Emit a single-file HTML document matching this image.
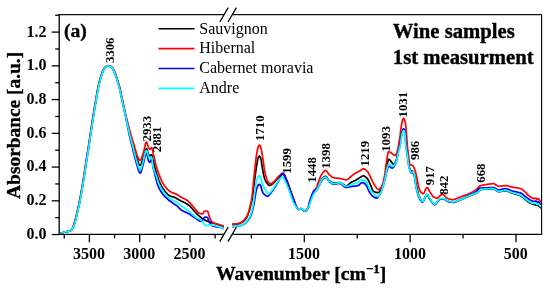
<!DOCTYPE html>
<html><head><meta charset="utf-8"><title>Wine samples FTIR</title>
<style>
html,body{margin:0;padding:0;background:#fff;}
body{width:550px;height:291px;overflow:hidden;}
svg{display:block;font-family:"Liberation Serif","Times New Roman",serif;}
</style></head><body>
<svg width="550" height="291" viewBox="0 0 550 291">
<rect width="550" height="291" fill="#fff"/>
<g fill="none" stroke-width="1.7" stroke-linejoin="round" stroke-linecap="butt">
<path d="M60.1,233.8L60.5,233.6L60.9,233.4L61.3,233.2L61.7,233.1L62.1,232.9L62.5,232.7L62.9,232.6L63.3,232.5L63.7,232.3L64.1,232.2L64.5,232.1L64.9,232.0L65.3,231.9L65.7,231.8L66.1,231.8L66.5,231.7L66.9,231.7L67.3,231.6L67.7,231.5L68.1,231.4L68.5,231.3L68.9,231.2L69.3,231.1L69.7,231.0L70.1,230.8L70.5,230.5L70.9,230.2L71.3,229.8L71.7,229.4L72.1,229.0L72.5,228.4L72.9,227.6L73.3,226.6L73.7,225.5L74.1,224.4L74.5,223.1L74.9,221.7L75.3,220.3L75.7,218.8L76.1,217.2L76.5,215.5L76.9,213.8L77.3,212.0L77.7,210.2L78.1,208.5L78.5,206.7L78.9,204.9L79.3,203.0L79.7,201.0L80.1,199.0L80.5,196.8L80.9,194.5L81.3,192.3L81.7,190.0L82.1,187.8L82.5,185.5L82.9,183.1L83.3,180.7L83.7,178.1L84.1,175.5L84.5,172.8L84.9,170.2L85.3,167.5L85.7,164.9L86.1,162.3L86.5,159.7L86.9,157.2L87.3,154.7L87.7,152.3L88.1,149.8L88.5,147.3L88.9,144.7L89.3,142.1L89.7,139.4L90.1,136.7L90.5,134.0L90.9,131.3L91.3,128.7L91.7,126.0L92.1,123.4L92.5,120.8L92.9,118.2L93.3,115.7L93.7,113.2L94.1,110.8L94.5,108.4L94.9,106.0L95.3,103.6L95.7,101.3L96.1,98.9L96.5,96.6L96.9,94.2L97.3,91.9L97.7,89.7L98.1,87.7L98.5,85.9L98.9,84.1L99.3,82.5L99.7,81.0L100.1,79.5L100.5,78.1L100.9,76.8L101.3,75.5L101.7,74.3L102.1,73.2L102.5,72.1L102.9,71.1L103.3,70.2L103.7,69.4L104.1,68.7L104.5,68.1L104.9,67.6L105.3,67.1L105.7,66.8L106.1,66.6L106.5,66.5L106.9,66.3L107.3,66.2L107.7,66.1L108.1,66.0L108.5,66.0L108.9,66.0L109.3,66.0L109.7,66.1L110.1,66.3L110.5,66.4L110.9,66.6L111.3,66.8L111.7,67.1L112.1,67.6L112.5,68.1L112.9,68.7L113.3,69.4L113.7,70.1L114.1,71.0L114.5,71.9L114.9,72.9L115.3,73.9L115.7,75.0L116.1,76.1L116.5,77.3L116.9,78.5L117.3,79.8L117.7,81.1L118.1,82.4L118.5,83.7L118.9,85.2L119.3,86.7L119.7,88.3L120.1,90.0L120.5,91.8L120.9,93.7L121.3,95.6L121.7,97.5L122.1,99.3L122.5,101.1L122.9,103.0L123.3,104.8L123.7,106.7L124.1,108.5L124.5,110.4L124.9,112.2L125.3,114.0L125.7,115.8L126.1,117.5L126.5,119.3L126.9,121.0L127.3,122.7L127.7,124.4L128.1,126.1L128.5,127.8L128.9,129.4L129.3,131.1L129.7,132.7L130.1,134.2L130.5,135.8L130.9,137.3L131.3,138.7L131.7,140.2L132.1,141.6L132.5,143.0L132.9,144.4L133.3,145.8L133.7,147.2L134.1,148.7L134.5,150.2L134.9,151.6L135.3,153.1L135.7,154.5L136.1,155.9L136.5,157.1L136.9,158.3L137.3,159.5L137.7,160.7L138.1,161.9L138.5,163.1L138.9,164.1L139.3,164.8L139.7,165.3L140.1,165.4L140.5,165.1L140.9,164.5L141.3,163.6L141.7,162.5L142.1,161.4L142.5,160.2L142.9,159.0L143.3,157.9L143.7,156.6L144.1,155.1L144.5,153.5L144.9,152.0L145.3,150.6L145.7,149.5L146.1,148.9L146.5,148.7L146.9,149.3L147.3,150.5L147.7,151.9L148.1,153.2L148.5,154.3L148.9,155.0L149.3,155.6L149.7,155.9L150.1,155.7L150.5,155.4L150.9,154.9L151.3,154.6L151.7,154.7L152.1,155.8L152.5,157.4L152.9,159.3L153.3,160.9L153.7,162.5L154.1,164.1L154.5,165.8L154.9,167.5L155.3,169.0L155.7,170.4L156.1,171.8L156.5,173.1L156.9,174.4L157.3,175.6L157.7,176.8L158.1,178.0L158.5,179.2L158.9,180.3L159.3,181.3L159.7,182.3L160.1,183.1L160.5,184.0L160.9,184.8L161.3,185.6L161.7,186.3L162.1,187.0L162.5,187.7L162.9,188.4L163.3,189.0L163.7,189.6L164.1,190.1L164.5,190.7L164.9,191.2L165.3,191.7L165.7,192.2L166.1,192.7L166.5,193.1L166.9,193.6L167.3,194.0L167.7,194.4L168.1,194.8L168.5,195.1L168.9,195.4L169.3,195.6L169.7,195.9L170.1,196.0L170.5,196.2L170.9,196.3L171.3,196.4L171.7,196.5L172.1,196.6L172.5,196.7L172.9,196.8L173.3,196.9L173.7,197.0L174.1,197.2L174.5,197.3L174.9,197.5L175.3,197.7L175.7,197.9L176.1,198.1L176.5,198.4L176.9,198.6L177.3,198.9L177.7,199.1L178.1,199.4L178.5,199.6L178.9,199.9L179.3,200.1L179.7,200.3L180.1,200.5L180.5,200.7L180.9,200.9L181.3,201.1L181.7,201.3L182.1,201.5L182.5,201.7L182.9,201.8L183.3,202.0L183.7,202.2L184.1,202.4L184.5,202.6L184.9,202.8L185.3,203.0L185.7,203.3L186.1,203.5L186.5,203.7L186.9,204.0L187.3,204.2L187.7,204.5L188.1,204.7L188.5,205.0L188.9,205.3L189.3,205.6L189.7,206.0L190.1,206.3L190.5,206.7L190.9,207.1L191.3,207.5L191.7,208.0L192.1,208.5L192.5,209.0L192.9,209.5L193.3,210.0L193.7,210.4L194.1,210.9L194.5,211.3L194.9,211.8L195.3,212.2L195.7,212.6L196.1,213.0L196.5,213.5L196.9,213.9L197.3,214.3L197.7,214.7L198.1,215.1L198.5,215.4L198.9,215.8L199.3,216.2L199.7,216.5L200.1,216.8L200.5,217.1L200.9,217.5L201.3,217.8L201.7,218.1L202.1,218.4L202.5,218.7L202.9,218.9L203.3,219.2L203.7,219.5L204.1,219.7L204.5,219.9L204.9,220.1L205.3,220.3L205.7,220.5L206.1,220.7L206.5,220.9L206.9,221.0L207.3,221.2L207.7,221.3L208.1,221.5L208.5,221.6L208.9,221.8L209.3,221.9L209.7,222.0L210.1,222.2L210.5,222.3L210.9,222.4L211.3,222.5L211.7,222.6L212.1,222.8L212.5,222.9L212.9,223.0L213.3,223.1L213.7,223.2L214.1,223.3L214.5,223.4L214.9,223.6L215.3,223.7L215.7,223.8L216.1,223.9L216.5,224.0L216.9,224.1L217.3,224.2L217.7,224.4L218.1,224.5L218.5,224.6L218.9,224.7L219.3,224.8L219.7,225.0L220.1,225.1L220.5,225.2L220.9,225.4L221.3,225.5L221.7,225.6L222.1,225.8L222.5,225.9L222.9,226.1L223.3,226.2L223.7,226.4L223.8,226.4" stroke="#000000"/>
<path d="M232.1,224.4L232.5,224.4L232.9,224.4L233.3,224.4L233.7,224.3L234.1,224.3L234.5,224.3L234.9,224.3L235.3,224.2L235.7,224.2L236.1,224.1L236.5,224.1L236.9,224.0L237.3,223.9L237.7,223.9L238.1,223.8L238.5,223.7L238.9,223.6L239.3,223.5L239.7,223.4L240.1,223.2L240.5,223.0L240.9,222.8L241.3,222.6L241.7,222.4L242.1,222.1L242.5,221.9L242.9,221.6L243.3,221.3L243.7,221.0L244.1,220.6L244.5,220.2L244.9,219.8L245.3,219.3L245.7,218.8L246.1,218.2L246.5,217.7L246.9,217.0L247.3,216.2L247.7,215.3L248.1,214.3L248.5,213.3L248.9,212.1L249.3,210.8L249.7,209.2L250.1,207.5L250.5,205.9L250.9,204.4L251.3,203.0L251.7,201.4L252.1,199.5L252.5,197.0L252.9,194.1L253.3,191.0L253.7,187.6L254.1,184.3L254.5,181.0L254.9,178.0L255.3,175.1L255.7,172.1L256.1,169.3L256.5,166.6L256.9,164.1L257.3,161.7L257.7,159.6L258.1,158.2L258.5,157.2L258.9,156.4L259.3,156.0L259.7,156.2L260.1,156.8L260.5,157.7L260.9,158.8L261.3,160.9L261.7,163.7L262.1,166.4L262.5,168.6L262.9,170.8L263.3,173.0L263.7,175.0L264.1,176.7L264.5,178.2L264.9,179.3L265.3,180.3L265.7,181.1L266.1,181.8L266.5,182.4L266.9,182.9L267.3,183.4L267.7,184.0L268.1,184.4L268.5,184.8L268.9,185.2L269.3,185.4L269.7,185.4L270.1,185.3L270.5,185.2L270.9,185.0L271.3,184.8L271.7,184.5L272.1,184.2L272.5,183.8L272.9,183.5L273.3,183.2L273.7,182.8L274.1,182.5L274.5,182.1L274.9,181.7L275.3,181.2L275.7,180.8L276.1,180.3L276.5,179.8L276.9,179.3L277.3,178.8L277.7,178.4L278.1,177.9L278.5,177.5L278.9,177.1L279.3,176.7L279.7,176.3L280.1,175.9L280.5,175.5L280.9,175.1L281.3,174.7L281.7,174.4L282.1,174.2L282.5,174.0L282.9,174.0L283.3,174.2L283.7,174.7L284.1,175.3L284.5,176.1L284.9,177.0L285.3,177.9L285.7,178.9L286.1,179.8L286.5,180.7L286.9,181.6L287.3,182.6L287.7,183.7L288.1,184.8L288.5,186.0L288.9,187.1L289.3,188.3L289.7,189.5L290.1,190.6L290.5,191.7L290.9,192.8L291.3,193.8L291.7,194.8L292.1,195.8L292.5,196.8L292.9,197.8L293.3,198.8L293.7,199.8L294.1,200.8L294.5,201.8L294.9,202.9L295.3,204.0L295.7,205.1L296.1,206.0L296.5,206.8L296.9,207.5L297.3,208.1L297.7,208.7L298.1,209.1L298.5,209.4L298.9,209.4L299.3,209.3L299.7,209.2L300.1,209.1L300.5,209.0L300.9,208.9L301.3,208.9L301.7,209.0L302.1,209.2L302.5,209.5L302.9,209.9L303.3,210.3L303.7,210.7L304.1,211.0L304.5,211.2L304.9,211.2L305.3,211.1L305.7,210.9L306.1,210.6L306.5,210.2L306.9,209.7L307.3,209.2L307.7,208.7L308.1,208.1L308.5,207.2L308.9,206.0L309.3,204.6L309.7,203.2L310.1,201.9L310.5,200.8L310.9,199.7L311.3,198.5L311.7,197.4L312.1,196.3L312.5,195.3L312.9,194.3L313.3,193.4L313.7,192.6L314.1,192.0L314.5,191.5L314.9,191.2L315.3,190.9L315.7,190.7L316.1,190.4L316.5,190.1L316.9,189.6L317.3,188.9L317.7,188.1L318.1,187.1L318.5,186.1L318.9,185.2L319.3,184.2L319.7,183.4L320.1,182.6L320.5,181.8L320.9,180.9L321.3,180.2L321.7,179.5L322.1,178.9L322.5,178.4L322.9,178.0L323.3,177.6L323.7,177.3L324.1,177.0L324.5,176.7L324.9,176.5L325.3,176.4L325.7,176.4L326.1,176.6L326.5,176.9L326.9,177.3L327.3,177.9L327.7,178.5L328.1,179.1L328.5,179.7L328.9,180.2L329.3,180.6L329.7,181.0L330.1,181.3L330.5,181.6L330.9,181.9L331.3,182.2L331.7,182.4L332.1,182.7L332.5,182.9L332.9,183.0L333.3,183.1L333.7,183.2L334.1,183.2L334.5,183.2L334.9,183.1L335.3,183.1L335.7,183.0L336.1,183.0L336.5,182.9L336.9,182.8L337.3,182.8L337.7,182.7L338.1,182.7L338.5,182.6L338.9,182.6L339.3,182.6L339.7,182.6L340.1,182.7L340.5,182.8L340.9,183.0L341.3,183.2L341.7,183.4L342.1,183.7L342.5,183.9L342.9,184.2L343.3,184.5L343.7,184.7L344.1,185.0L344.5,185.2L344.9,185.4L345.3,185.6L345.7,185.7L346.1,185.8L346.5,185.8L346.9,185.7L347.3,185.6L347.7,185.3L348.1,185.0L348.5,184.7L348.9,184.3L349.3,183.9L349.7,183.5L350.1,183.1L350.5,182.8L350.9,182.5L351.3,182.3L351.7,182.1L352.1,181.8L352.5,181.7L352.9,181.5L353.3,181.3L353.7,181.1L354.1,180.9L354.5,180.7L354.9,180.6L355.3,180.4L355.7,180.2L356.1,180.0L356.5,179.7L356.9,179.5L357.3,179.3L357.7,179.0L358.1,178.7L358.5,178.4L358.9,178.2L359.3,177.9L359.7,177.6L360.1,177.4L360.5,177.2L360.9,177.0L361.3,176.7L361.7,176.5L362.1,176.3L362.5,176.1L362.9,176.0L363.3,175.9L363.7,175.9L364.1,176.0L364.5,176.2L364.9,176.4L365.3,176.7L365.7,177.0L366.1,177.4L366.5,177.8L366.9,178.2L367.3,178.6L367.7,179.1L368.1,179.7L368.5,180.4L368.9,181.2L369.3,182.1L369.7,183.1L370.1,184.0L370.5,184.9L370.9,185.7L371.3,186.8L371.7,187.9L372.1,189.0L372.5,190.0L372.9,190.7L373.3,191.2L373.7,191.5L374.1,191.6L374.5,191.8L374.9,192.0L375.3,192.1L375.7,192.2L376.1,192.4L376.5,192.4L376.9,192.5L377.3,192.6L377.7,192.6L378.1,192.6L378.5,192.5L378.9,192.3L379.3,191.9L379.7,191.5L380.1,190.9L380.5,190.3L380.9,189.7L381.3,189.0L381.7,188.3L382.1,187.4L382.5,186.4L382.9,185.2L383.3,184.0L383.7,182.6L384.1,181.2L384.5,179.6L384.9,178.0L385.3,176.0L385.7,173.6L386.1,171.0L386.5,168.6L386.9,166.5L387.3,164.4L387.7,162.3L388.1,160.5L388.5,159.4L388.9,159.3L389.3,159.6L389.7,159.9L390.1,160.4L390.5,160.9L390.9,161.4L391.3,161.8L391.7,162.3L392.1,162.9L392.5,163.4L392.9,163.8L393.3,164.1L393.7,164.2L394.1,164.1L394.5,163.7L394.9,163.1L395.3,162.3L395.7,161.4L396.1,160.5L396.5,159.4L396.9,157.9L397.3,155.9L397.7,153.7L398.1,151.5L398.5,149.3L398.9,146.7L399.3,144.0L399.7,141.3L400.1,138.9L400.5,137.0L400.9,135.4L401.3,134.0L401.7,132.7L402.1,131.6L402.5,130.8L402.9,130.1L403.3,129.5L403.7,129.4L404.1,129.7L404.5,130.4L404.9,131.3L405.3,133.0L405.7,135.6L406.1,138.6L406.5,142.6L406.9,147.0L407.3,150.9L407.7,154.7L408.1,158.3L408.5,161.3L408.9,163.9L409.3,166.5L409.7,168.6L410.1,170.0L410.5,170.4L410.9,170.6L411.3,170.7L411.7,170.8L412.1,171.0L412.5,171.2L412.9,171.6L413.3,172.4L413.7,173.3L414.1,174.4L414.5,175.7L414.9,177.4L415.3,179.6L415.7,181.9L416.1,184.1L416.5,186.0L416.9,187.7L417.3,189.4L417.7,191.1L418.1,192.7L418.5,194.2L418.9,195.5L419.3,196.5L419.7,197.4L420.1,198.3L420.5,199.1L420.9,199.9L421.3,200.5L421.7,201.1L422.1,201.4L422.5,201.6L422.9,201.5L423.3,201.1L423.7,200.5L424.1,199.7L424.5,198.8L424.9,197.9L425.3,196.9L425.7,196.1L426.1,195.4L426.5,194.9L426.9,194.6L427.3,194.7L427.7,195.0L428.1,195.6L428.5,196.3L428.9,197.1L429.3,197.9L429.7,198.7L430.1,199.3L430.5,199.9L430.9,200.4L431.3,201.0L431.7,201.6L432.1,202.2L432.5,202.7L432.9,203.2L433.3,203.6L433.7,204.0L434.1,204.2L434.5,204.4L434.9,204.4L435.3,204.2L435.7,203.9L436.1,203.5L436.5,203.0L436.9,202.5L437.3,201.9L437.7,201.3L438.1,200.8L438.5,200.2L438.9,199.8L439.3,199.4L439.7,199.1L440.1,199.0L440.5,199.0L440.9,199.0L441.3,199.0L441.7,199.0L442.1,199.0L442.5,199.0L442.9,199.0L443.3,199.0L443.7,199.0L444.1,199.1L444.5,199.2L444.9,199.4L445.3,199.6L445.7,199.9L446.1,200.2L446.5,200.5L446.9,200.7L447.3,201.0L447.7,201.3L448.1,201.5L448.5,201.7L448.9,201.8L449.3,201.9L449.7,201.9L450.1,202.0L450.5,202.1L450.9,202.1L451.3,202.2L451.7,202.2L452.1,202.2L452.5,202.3L452.9,202.3L453.3,202.3L453.7,202.3L454.1,202.3L454.5,202.2L454.9,202.1L455.3,202.0L455.7,201.9L456.1,201.8L456.5,201.6L456.9,201.5L457.3,201.3L457.7,201.1L458.1,201.0L458.5,200.8L458.9,200.6L459.3,200.4L459.7,200.3L460.1,200.1L460.5,200.0L460.9,199.8L461.3,199.6L461.7,199.5L462.1,199.3L462.5,199.1L462.9,198.9L463.3,198.8L463.7,198.6L464.1,198.4L464.5,198.2L464.9,198.0L465.3,197.8L465.7,197.6L466.1,197.4L466.5,197.2L466.9,197.0L467.3,196.9L467.7,196.7L468.1,196.5L468.5,196.3L468.9,196.1L469.3,196.0L469.7,195.8L470.1,195.6L470.5,195.5L470.9,195.3L471.3,195.2L471.7,195.0L472.1,194.9L472.5,194.7L472.9,194.6L473.3,194.4L473.7,194.2L474.1,194.1L474.5,193.9L474.9,193.7L475.3,193.5L475.7,193.3L476.1,193.1L476.5,192.9L476.9,192.7L477.3,192.4L477.7,192.2L478.1,191.9L478.5,191.6L478.9,191.2L479.3,190.9L479.7,190.5L480.1,190.1L480.5,189.8L480.9,189.6L481.3,189.5L481.7,189.5L482.1,189.4L482.5,189.4L482.9,189.4L483.3,189.3L483.7,189.3L484.1,189.3L484.5,189.2L484.9,189.2L485.3,189.2L485.7,189.2L486.1,189.2L486.5,189.1L486.9,189.1L487.3,189.1L487.7,189.1L488.1,189.1L488.5,189.1L488.9,189.1L489.3,189.0L489.7,189.0L490.1,189.0L490.5,189.0L490.9,189.0L491.3,189.0L491.7,189.0L492.1,189.0L492.5,189.0L492.9,189.0L493.3,189.0L493.7,189.0L494.1,189.1L494.5,189.3L494.9,189.5L495.3,189.8L495.7,190.1L496.1,190.4L496.5,190.6L496.9,190.9L497.3,191.2L497.7,191.4L498.1,191.6L498.5,191.7L498.9,191.7L499.3,191.7L499.7,191.7L500.1,191.6L500.5,191.6L500.9,191.5L501.3,191.4L501.7,191.3L502.1,191.2L502.5,191.2L502.9,191.1L503.3,191.0L503.7,190.9L504.1,190.9L504.5,190.8L504.9,190.8L505.3,190.8L505.7,190.8L506.1,190.8L506.5,190.9L506.9,191.0L507.3,191.1L507.7,191.2L508.1,191.4L508.5,191.5L508.9,191.7L509.3,191.9L509.7,192.1L510.1,192.2L510.5,192.4L510.9,192.6L511.3,192.7L511.7,192.9L512.1,193.0L512.5,193.2L512.9,193.3L513.3,193.4L513.7,193.5L514.1,193.6L514.5,193.7L514.9,193.9L515.3,194.0L515.7,194.1L516.1,194.2L516.5,194.3L516.9,194.4L517.3,194.5L517.7,194.7L518.1,194.8L518.5,194.9L518.9,195.1L519.3,195.2L519.7,195.4L520.1,195.6L520.5,195.8L520.9,196.0L521.3,196.2L521.7,196.4L522.1,196.7L522.5,197.1L522.9,197.4L523.3,197.8L523.7,198.1L524.1,198.5L524.5,198.8L524.9,199.2L525.3,199.5L525.7,199.8L526.1,200.1L526.5,200.5L526.9,200.8L527.3,201.2L527.7,201.5L528.1,201.8L528.5,202.1L528.9,202.4L529.3,202.6L529.7,202.9L530.1,203.1L530.5,203.3L530.9,203.4L531.3,203.6L531.7,203.8L532.1,203.9L532.5,204.1L532.9,204.2L533.3,204.4L533.7,204.5L534.1,204.6L534.5,204.7L534.9,204.8L535.3,204.9L535.7,205.0L536.1,205.1L536.5,205.2L536.9,205.2L537.3,205.3L537.7,205.5L538.1,205.6L538.5,205.7L538.9,206.0L539.3,206.3L539.7,206.6L540.1,207.1L540.5,207.5L540.9,208.0L541.1,208.2" stroke="#000000"/>
<path d="M60.1,233.8L60.5,233.6L60.9,233.4L61.3,233.2L61.7,233.1L62.1,232.9L62.5,232.7L62.9,232.6L63.3,232.5L63.7,232.3L64.1,232.2L64.5,232.1L64.9,232.0L65.3,231.9L65.7,231.8L66.1,231.8L66.5,231.7L66.9,231.7L67.3,231.6L67.7,231.5L68.1,231.4L68.5,231.3L68.9,231.2L69.3,231.1L69.7,231.0L70.1,230.8L70.5,230.5L70.9,230.2L71.3,229.9L71.7,229.4L72.1,229.0L72.5,228.4L72.9,227.4L73.3,226.2L73.7,225.0L74.1,223.7L74.5,222.4L74.9,221.0L75.3,219.5L75.7,218.0L76.1,216.4L76.5,214.7L76.9,212.9L77.3,211.1L77.7,209.3L78.1,207.6L78.5,205.8L78.9,204.0L79.3,202.0L79.7,200.0L80.1,197.9L80.5,195.7L80.9,193.4L81.3,191.2L81.7,188.9L82.1,186.6L82.5,184.3L82.9,181.9L83.3,179.4L83.7,176.8L84.1,174.2L84.5,171.5L84.9,168.9L85.3,166.2L85.7,163.6L86.1,161.0L86.5,158.4L86.9,156.0L87.3,153.5L87.7,151.1L88.1,148.6L88.5,146.0L88.9,143.4L89.3,140.7L89.7,138.0L90.1,135.3L90.5,132.7L90.9,130.0L91.3,127.4L91.7,124.7L92.1,122.1L92.5,119.5L92.9,116.9L93.3,114.4L93.7,112.0L94.1,109.6L94.5,107.2L94.9,104.8L95.3,102.5L95.7,100.1L96.1,97.8L96.5,95.4L96.9,93.1L97.3,90.8L97.7,88.7L98.1,86.8L98.5,85.0L98.9,83.3L99.3,81.7L99.7,80.3L100.1,78.8L100.5,77.4L100.9,76.1L101.3,74.9L101.7,73.7L102.1,72.6L102.5,71.6L102.9,70.6L103.3,69.7L103.7,69.1L104.1,68.4L104.5,67.8L104.9,67.3L105.3,66.9L105.7,66.7L106.1,66.6L106.5,66.4L106.9,66.3L107.3,66.2L107.7,66.1L108.1,66.1L108.5,66.0L108.9,66.0L109.3,66.0L109.7,66.1L110.1,66.2L110.5,66.4L110.9,66.5L111.3,66.7L111.7,67.0L112.1,67.3L112.5,67.8L112.9,68.4L113.3,69.1L113.7,69.7L114.1,70.5L114.5,71.5L114.9,72.4L115.3,73.4L115.7,74.5L116.1,75.6L116.5,76.7L116.9,77.9L117.3,79.2L117.7,80.4L118.1,81.7L118.5,83.1L118.9,84.5L119.3,85.9L119.7,87.5L120.1,89.2L120.5,90.9L120.9,92.8L121.3,94.6L121.7,96.5L122.1,98.4L122.5,100.2L122.9,102.1L123.3,103.9L123.7,105.8L124.1,107.7L124.5,109.6L124.9,111.4L125.3,113.2L125.7,114.9L126.1,116.6L126.5,118.3L126.9,119.9L127.3,121.4L127.7,123.0L128.1,124.5L128.5,126.0L128.9,127.5L129.3,128.9L129.7,130.4L130.1,131.8L130.5,133.2L130.9,134.6L131.3,136.0L131.7,137.4L132.1,138.8L132.5,140.1L132.9,141.4L133.3,142.7L133.7,144.0L134.1,145.3L134.5,146.7L134.9,148.0L135.3,149.4L135.7,150.8L136.1,152.2L136.5,153.5L136.9,154.7L137.3,155.8L137.7,156.7L138.1,157.7L138.5,158.6L138.9,159.4L139.3,160.1L139.7,160.4L140.1,160.5L140.5,160.1L140.9,159.5L141.3,158.6L141.7,157.6L142.1,156.5L142.5,155.4L142.9,154.2L143.3,153.1L143.7,151.6L144.1,149.9L144.5,148.0L144.9,146.1L145.3,144.5L145.7,143.1L146.1,142.3L146.5,142.1L146.9,142.7L147.3,143.7L147.7,145.1L148.1,146.5L148.5,147.6L148.9,148.3L149.3,148.9L149.7,149.2L150.1,149.2L150.5,148.8L150.9,148.2L151.3,147.7L151.7,147.6L152.1,148.5L152.5,150.0L152.9,152.0L153.3,153.9L153.7,155.6L154.1,157.3L154.5,159.0L154.9,160.7L155.3,162.4L155.7,164.1L156.1,165.6L156.5,167.0L156.9,168.3L157.3,169.5L157.7,170.7L158.1,171.8L158.5,172.9L158.9,174.0L159.3,175.0L159.7,176.0L160.1,177.1L160.5,178.1L160.9,179.0L161.3,180.0L161.7,180.8L162.1,181.6L162.5,182.3L162.9,183.0L163.3,183.7L163.7,184.4L164.1,185.0L164.5,185.6L164.9,186.2L165.3,186.7L165.7,187.3L166.1,187.7L166.5,188.2L166.9,188.6L167.3,189.1L167.7,189.5L168.1,189.9L168.5,190.2L168.9,190.6L169.3,190.9L169.7,191.2L170.1,191.5L170.5,191.8L170.9,192.0L171.3,192.2L171.7,192.4L172.1,192.5L172.5,192.7L172.9,192.8L173.3,193.0L173.7,193.1L174.1,193.2L174.5,193.4L174.9,193.5L175.3,193.7L175.7,193.9L176.1,194.1L176.5,194.3L176.9,194.6L177.3,194.8L177.7,195.1L178.1,195.3L178.5,195.6L178.9,195.8L179.3,196.1L179.7,196.3L180.1,196.6L180.5,196.8L180.9,197.1L181.3,197.3L181.7,197.5L182.1,197.7L182.5,197.9L182.9,198.1L183.3,198.3L183.7,198.5L184.1,198.7L184.5,198.9L184.9,199.1L185.3,199.3L185.7,199.5L186.1,199.7L186.5,200.0L186.9,200.3L187.3,200.5L187.7,200.8L188.1,201.1L188.5,201.5L188.9,201.9L189.3,202.3L189.7,202.7L190.1,203.1L190.5,203.5L190.9,204.0L191.3,204.4L191.7,204.9L192.1,205.4L192.5,205.8L192.9,206.3L193.3,206.8L193.7,207.3L194.1,207.8L194.5,208.3L194.9,208.8L195.3,209.3L195.7,209.7L196.1,210.2L196.5,210.7L196.9,211.1L197.3,211.5L197.7,212.0L198.1,212.3L198.5,212.7L198.9,213.0L199.3,213.2L199.7,213.4L200.1,213.5L200.5,213.7L200.9,213.8L201.3,213.9L201.7,213.9L202.1,214.0L202.5,214.0L202.9,213.6L203.3,212.9L203.7,212.1L204.1,211.4L204.5,211.0L204.9,211.0L205.3,211.0L205.7,211.0L206.1,211.0L206.5,211.0L206.9,211.0L207.3,211.0L207.7,211.3L208.1,212.3L208.5,213.8L208.9,215.1L209.3,216.2L209.7,217.4L210.1,218.6L210.5,219.7L210.9,220.5L211.3,221.1L211.7,221.5L212.1,221.9L212.5,222.2L212.9,222.5L213.3,222.7L213.7,223.0L214.1,223.1L214.5,223.3L214.9,223.5L215.3,223.6L215.7,223.8L216.1,223.9L216.5,224.0L216.9,224.1L217.3,224.2L217.7,224.3L218.1,224.5L218.5,224.6L218.9,224.7L219.3,224.8L219.7,225.0L220.1,225.1L220.5,225.3L220.9,225.4L221.3,225.6L221.7,225.7L222.1,225.9L222.5,226.1L222.9,226.2L223.3,226.4L223.7,226.6L223.8,226.6" stroke="#ff0000"/>
<path d="M232.1,224.2L232.5,224.2L232.9,224.2L233.3,224.2L233.7,224.2L234.1,224.1L234.5,224.1L234.9,224.1L235.3,224.0L235.7,224.0L236.1,223.9L236.5,223.9L236.9,223.8L237.3,223.7L237.7,223.7L238.1,223.6L238.5,223.5L238.9,223.4L239.3,223.3L239.7,223.1L240.1,222.9L240.5,222.7L240.9,222.5L241.3,222.3L241.7,222.0L242.1,221.7L242.5,221.5L242.9,221.2L243.3,220.8L243.7,220.5L244.1,220.1L244.5,219.6L244.9,219.1L245.3,218.6L245.7,218.0L246.1,217.5L246.5,216.8L246.9,216.1L247.3,215.3L247.7,214.4L248.1,213.5L248.5,212.4L248.9,211.1L249.3,209.7L249.7,208.0L250.1,206.3L250.5,204.7L250.9,203.2L251.3,201.5L251.7,199.3L252.1,196.3L252.5,192.7L252.9,188.6L253.3,184.3L253.7,180.0L254.1,175.8L254.5,172.0L254.9,168.3L255.3,164.6L255.7,161.1L256.1,157.8L256.5,155.0L256.9,152.6L257.3,150.3L257.7,148.5L258.1,147.2L258.5,146.2L258.9,145.4L259.3,145.0L259.7,145.2L260.1,145.8L260.5,146.7L260.9,147.8L261.3,149.4L261.7,151.5L262.1,153.8L262.5,156.2L262.9,158.8L263.3,161.7L263.7,164.6L264.1,167.4L264.5,169.9L264.9,172.0L265.3,173.9L265.7,175.6L266.1,177.1L266.5,178.3L266.9,179.3L267.3,180.3L267.7,181.0L268.1,181.6L268.5,182.2L268.9,182.7L269.3,183.2L269.7,183.5L270.1,183.7L270.5,183.7L270.9,183.6L271.3,183.4L271.7,183.2L272.1,183.0L272.5,182.7L272.9,182.4L273.3,182.1L273.7,181.7L274.1,181.4L274.5,181.1L274.9,180.7L275.3,180.3L275.7,179.9L276.1,179.4L276.5,178.9L276.9,178.4L277.3,177.9L277.7,177.4L278.1,176.9L278.5,176.5L278.9,176.1L279.3,175.7L279.7,175.4L280.1,175.0L280.5,174.6L280.9,174.2L281.3,173.9L281.7,173.7L282.1,173.4L282.5,173.3L282.9,173.3L283.3,173.5L283.7,173.9L284.1,174.5L284.5,175.2L284.9,176.0L285.3,176.9L285.7,177.9L286.1,178.8L286.5,179.7L286.9,180.6L287.3,181.5L287.7,182.5L288.1,183.6L288.5,184.7L288.9,185.9L289.3,187.1L289.7,188.3L290.1,189.4L290.5,190.6L290.9,191.7L291.3,192.8L291.7,193.9L292.1,195.0L292.5,196.1L292.9,197.2L293.3,198.3L293.7,199.4L294.1,200.5L294.5,201.5L294.9,202.6L295.3,203.8L295.7,204.8L296.1,205.8L296.5,206.5L296.9,207.1L297.3,207.7L297.7,208.2L298.1,208.6L298.5,208.9L298.9,208.9L299.3,208.8L299.7,208.7L300.1,208.6L300.5,208.5L300.9,208.4L301.3,208.4L301.7,208.5L302.1,208.7L302.5,209.0L302.9,209.4L303.3,209.7L303.7,210.1L304.1,210.4L304.5,210.6L304.9,210.6L305.3,210.5L305.7,210.3L306.1,210.0L306.5,209.7L306.9,209.2L307.3,208.7L307.7,208.2L308.1,207.6L308.5,206.6L308.9,205.1L309.3,203.5L309.7,202.0L310.1,200.7L310.5,199.5L310.9,198.3L311.3,197.1L311.7,196.0L312.1,194.9L312.5,193.8L312.9,192.8L313.3,192.0L313.7,191.2L314.1,190.5L314.5,190.0L314.9,189.6L315.3,189.2L315.7,188.8L316.1,188.3L316.5,187.6L316.9,186.5L317.3,185.1L317.7,183.8L318.1,182.7L318.5,181.6L318.9,180.6L319.3,179.6L319.7,178.6L320.1,177.6L320.5,176.7L320.9,175.9L321.3,175.2L321.7,174.5L322.1,174.0L322.5,173.4L322.9,172.8L323.3,172.3L323.7,171.8L324.1,171.3L324.5,171.0L324.9,170.7L325.3,170.5L325.7,170.5L326.1,170.7L326.5,171.0L326.9,171.4L327.3,172.0L327.7,172.6L328.1,173.2L328.5,173.8L328.9,174.4L329.3,174.8L329.7,175.2L330.1,175.5L330.5,175.8L330.9,176.1L331.3,176.4L331.7,176.7L332.1,177.0L332.5,177.2L332.9,177.4L333.3,177.6L333.7,177.7L334.1,177.8L334.5,177.8L334.9,177.9L335.3,178.0L335.7,178.0L336.1,178.0L336.5,178.1L336.9,178.1L337.3,178.2L337.7,178.2L338.1,178.2L338.5,178.3L338.9,178.3L339.3,178.4L339.7,178.5L340.1,178.5L340.5,178.6L340.9,178.7L341.3,178.8L341.7,178.9L342.1,179.0L342.5,179.1L342.9,179.2L343.3,179.3L343.7,179.4L344.1,179.5L344.5,179.6L344.9,179.7L345.3,179.7L345.7,179.8L346.1,179.8L346.5,179.8L346.9,179.7L347.3,179.6L347.7,179.4L348.1,179.1L348.5,178.7L348.9,178.4L349.3,178.0L349.7,177.6L350.1,177.2L350.5,176.8L350.9,176.5L351.3,176.2L351.7,175.9L352.1,175.6L352.5,175.2L352.9,174.9L353.3,174.6L353.7,174.3L354.1,174.0L354.5,173.7L354.9,173.5L355.3,173.2L355.7,173.0L356.1,172.8L356.5,172.5L356.9,172.3L357.3,172.2L357.7,172.0L358.1,171.8L358.5,171.6L358.9,171.4L359.3,171.2L359.7,171.0L360.1,170.8L360.5,170.5L360.9,170.2L361.3,169.9L361.7,169.6L362.1,169.3L362.5,169.1L362.9,168.9L363.3,168.8L363.7,168.8L364.1,168.9L364.5,169.0L364.9,169.3L365.3,169.5L365.7,169.9L366.1,170.2L366.5,170.6L366.9,171.0L367.3,171.4L367.7,171.8L368.1,172.4L368.5,173.1L368.9,173.9L369.3,174.7L369.7,175.5L370.1,176.4L370.5,177.2L370.9,178.0L371.3,178.8L371.7,179.7L372.1,180.5L372.5,181.4L372.9,182.2L373.3,183.0L373.7,183.7L374.1,184.3L374.5,185.0L374.9,185.6L375.3,186.2L375.7,186.8L376.1,187.4L376.5,188.0L376.9,188.5L377.3,188.9L377.7,189.2L378.1,189.4L378.5,189.5L378.9,189.5L379.3,189.3L379.7,189.0L380.1,188.6L380.5,188.1L380.9,187.5L381.3,186.9L381.7,186.2L382.1,185.4L382.5,184.3L382.9,183.0L383.3,181.4L383.7,179.8L384.1,177.9L384.5,176.0L384.9,173.7L385.3,170.7L385.7,167.4L386.1,164.2L386.5,161.5L386.9,159.1L387.3,156.7L387.7,154.5L388.1,152.7L388.5,151.7L388.9,151.6L389.3,151.7L389.7,151.9L390.1,152.2L390.5,152.5L390.9,152.8L391.3,153.1L391.7,153.3L392.1,153.6L392.5,153.9L392.9,154.2L393.3,154.5L393.7,154.8L394.1,155.0L394.5,155.2L394.9,155.4L395.3,155.4L395.7,155.2L396.1,154.5L396.5,153.6L396.9,152.4L397.3,151.1L397.7,149.8L398.1,148.1L398.5,146.0L398.9,143.7L399.3,141.2L399.7,138.7L400.1,135.6L400.5,132.3L400.9,129.1L401.3,126.2L401.7,123.9L402.1,121.8L402.5,120.3L402.9,119.3L403.3,118.5L403.7,118.3L404.1,118.8L404.5,119.8L404.9,120.9L405.3,122.7L405.7,125.0L406.1,128.8L406.5,134.2L406.9,140.0L407.3,145.0L407.7,149.1L408.1,152.9L408.5,156.0L408.9,158.8L409.3,161.4L409.7,163.5L410.1,164.7L410.5,164.9L410.9,165.0L411.3,165.1L411.7,165.1L412.1,165.2L412.5,165.3L412.9,165.7L413.3,166.3L413.7,167.1L414.1,168.0L414.5,169.0L414.9,170.0L415.3,171.2L415.7,172.7L416.1,174.3L416.5,175.9L416.9,178.0L417.3,180.3L417.7,182.5L418.1,184.5L418.5,186.0L418.9,187.5L419.3,188.9L419.7,190.1L420.1,191.0L420.5,191.6L420.9,192.1L421.3,192.6L421.7,193.0L422.1,193.3L422.5,193.6L422.9,193.7L423.3,193.7L423.7,193.3L424.1,192.7L424.5,191.9L424.9,191.0L425.3,190.1L425.7,189.2L426.1,188.4L426.5,187.9L426.9,187.6L427.3,187.7L427.7,188.0L428.1,188.5L428.5,189.2L428.9,190.0L429.3,190.8L429.7,191.6L430.1,192.3L430.5,192.9L430.9,193.5L431.3,194.1L431.7,194.8L432.1,195.4L432.5,195.9L432.9,196.4L433.3,196.8L433.7,197.1L434.1,197.3L434.5,197.5L434.9,197.6L435.3,197.8L435.7,197.9L436.1,198.0L436.5,198.1L436.9,198.1L437.3,198.0L437.7,197.9L438.1,197.6L438.5,197.3L438.9,196.9L439.3,196.5L439.7,196.1L440.1,195.7L440.5,195.3L440.9,194.9L441.3,194.6L441.7,194.4L442.1,194.2L442.5,194.2L442.9,194.3L443.3,194.6L443.7,194.9L444.1,195.3L444.5,195.8L444.9,196.3L445.3,196.8L445.7,197.2L446.1,197.6L446.5,197.9L446.9,198.1L447.3,198.3L447.7,198.5L448.1,198.6L448.5,198.8L448.9,199.0L449.3,199.1L449.7,199.2L450.1,199.3L450.5,199.4L450.9,199.5L451.3,199.6L451.7,199.7L452.1,199.7L452.5,199.7L452.9,199.7L453.3,199.6L453.7,199.6L454.1,199.5L454.5,199.4L454.9,199.3L455.3,199.1L455.7,199.0L456.1,198.8L456.5,198.6L456.9,198.5L457.3,198.3L457.7,198.1L458.1,197.9L458.5,197.7L458.9,197.5L459.3,197.3L459.7,197.2L460.1,197.0L460.5,196.9L460.9,196.7L461.3,196.6L461.7,196.4L462.1,196.3L462.5,196.2L462.9,196.0L463.3,195.9L463.7,195.7L464.1,195.6L464.5,195.5L464.9,195.3L465.3,195.2L465.7,195.0L466.1,194.9L466.5,194.7L466.9,194.6L467.3,194.4L467.7,194.3L468.1,194.1L468.5,193.9L468.9,193.7L469.3,193.6L469.7,193.4L470.1,193.2L470.5,193.0L470.9,192.8L471.3,192.6L471.7,192.4L472.1,192.1L472.5,191.9L472.9,191.7L473.3,191.4L473.7,191.2L474.1,190.9L474.5,190.7L474.9,190.4L475.3,190.1L475.7,189.9L476.1,189.6L476.5,189.2L476.9,188.8L477.3,188.4L477.7,188.0L478.1,187.6L478.5,187.1L478.9,186.8L479.3,186.4L479.7,186.1L480.1,185.9L480.5,185.8L480.9,185.7L481.3,185.5L481.7,185.4L482.1,185.3L482.5,185.2L482.9,185.2L483.3,185.1L483.7,185.0L484.1,184.9L484.5,184.9L484.9,184.8L485.3,184.7L485.7,184.7L486.1,184.6L486.5,184.5L486.9,184.5L487.3,184.4L487.7,184.4L488.1,184.3L488.5,184.2L488.9,184.2L489.3,184.1L489.7,184.0L490.1,184.0L490.5,183.9L490.9,183.9L491.3,183.8L491.7,183.8L492.1,183.7L492.5,183.7L492.9,183.7L493.3,183.7L493.7,183.7L494.1,183.8L494.5,184.0L494.9,184.2L495.3,184.4L495.7,184.7L496.1,185.0L496.5,185.3L496.9,185.6L497.3,185.8L497.7,186.0L498.1,186.2L498.5,186.3L498.9,186.3L499.3,186.3L499.7,186.3L500.1,186.2L500.5,186.2L500.9,186.1L501.3,186.1L501.7,186.0L502.1,185.9L502.5,185.9L502.9,185.8L503.3,185.8L503.7,185.7L504.1,185.7L504.5,185.6L504.9,185.6L505.3,185.6L505.7,185.6L506.1,185.6L506.5,185.7L506.9,185.7L507.3,185.8L507.7,185.9L508.1,186.0L508.5,186.1L508.9,186.2L509.3,186.4L509.7,186.5L510.1,186.6L510.5,186.7L510.9,186.8L511.3,186.9L511.7,187.0L512.1,187.1L512.5,187.2L512.9,187.3L513.3,187.3L513.7,187.4L514.1,187.5L514.5,187.5L514.9,187.6L515.3,187.6L515.7,187.7L516.1,187.7L516.5,187.8L516.9,187.9L517.3,187.9L517.7,188.0L518.1,188.0L518.5,188.1L518.9,188.2L519.3,188.3L519.7,188.4L520.1,188.5L520.5,188.6L520.9,188.7L521.3,188.9L521.7,189.1L522.1,189.4L522.5,189.7L522.9,190.0L523.3,190.3L523.7,190.7L524.1,191.0L524.5,191.4L524.9,191.7L525.3,192.1L525.7,192.5L526.1,192.9L526.5,193.3L526.9,193.7L527.3,194.2L527.7,194.6L528.1,195.1L528.5,195.5L528.9,195.9L529.3,196.2L529.7,196.5L530.1,196.7L530.5,197.0L530.9,197.3L531.3,197.6L531.7,197.8L532.1,198.0L532.5,198.2L532.9,198.4L533.3,198.5L533.7,198.6L534.1,198.6L534.5,198.5L534.9,198.4L535.3,198.3L535.7,198.2L536.1,198.2L536.5,198.7L536.9,199.4L537.3,199.6L537.7,199.2L538.1,198.8L538.5,198.6L538.9,199.2L539.3,200.0L539.7,200.6L540.1,201.1L540.5,201.5L540.9,201.8L541.1,201.9" stroke="#ff0000"/>
<path d="M60.1,233.8L60.5,233.6L60.9,233.4L61.3,233.2L61.7,233.1L62.1,232.9L62.5,232.7L62.9,232.6L63.3,232.5L63.7,232.3L64.1,232.2L64.5,232.1L64.9,232.0L65.3,231.9L65.7,231.8L66.1,231.8L66.5,231.7L66.9,231.7L67.3,231.6L67.7,231.5L68.1,231.4L68.5,231.3L68.9,231.2L69.3,231.1L69.7,231.0L70.1,230.8L70.5,230.5L70.9,230.2L71.3,229.8L71.7,229.4L72.1,228.9L72.5,228.4L72.9,227.8L73.3,227.0L73.7,226.1L74.1,225.1L74.5,224.0L74.9,222.7L75.3,221.2L75.7,219.7L76.1,218.2L76.5,216.6L76.9,214.9L77.3,213.1L77.7,211.3L78.1,209.6L78.5,207.8L78.9,206.0L79.3,204.2L79.7,202.3L80.1,200.3L80.5,198.1L80.9,195.9L81.3,193.7L81.7,191.4L82.1,189.2L82.5,186.9L82.9,184.6L83.3,182.2L83.7,179.7L84.1,177.2L84.5,174.5L84.9,171.8L85.3,169.2L85.7,166.5L86.1,163.9L86.5,161.3L86.9,158.7L87.3,156.3L87.7,153.8L88.1,151.4L88.5,148.9L88.9,146.4L89.3,143.7L89.7,141.0L90.1,138.3L90.5,135.7L90.9,133.0L91.3,130.4L91.7,127.7L92.1,125.0L92.5,122.4L92.9,119.8L93.3,117.3L93.7,114.8L94.1,112.3L94.5,109.9L94.9,107.5L95.3,105.1L95.7,102.7L96.1,100.4L96.5,98.1L96.9,95.7L97.3,93.4L97.7,91.1L98.1,89.0L98.5,87.0L98.9,85.2L99.3,83.5L99.7,81.9L100.1,80.4L100.5,79.0L100.9,77.6L101.3,76.3L101.7,75.0L102.1,73.9L102.5,72.8L102.9,71.7L103.3,70.7L103.7,69.8L104.1,69.1L104.5,68.5L104.9,67.9L105.3,67.4L105.7,67.0L106.1,66.7L106.5,66.6L106.9,66.4L107.3,66.2L107.7,66.1L108.1,66.0L108.5,66.0L108.9,66.0L109.3,66.1L109.7,66.2L110.1,66.4L110.5,66.6L110.9,66.7L111.3,67.0L111.7,67.4L112.1,67.9L112.5,68.5L112.9,69.1L113.3,69.8L113.7,70.7L114.1,71.6L114.5,72.6L114.9,73.6L115.3,74.6L115.7,75.7L116.1,76.9L116.5,78.1L116.9,79.3L117.3,80.6L117.7,81.9L118.1,83.2L118.5,84.6L118.9,86.1L119.3,87.7L119.7,89.4L120.1,91.2L120.5,93.0L120.9,94.9L121.3,96.8L121.7,98.6L122.1,100.5L122.5,102.3L122.9,104.1L123.3,105.9L123.7,107.7L124.1,109.5L124.5,111.3L124.9,113.2L125.3,115.0L125.7,117.0L126.1,118.9L126.5,121.0L126.9,123.0L127.3,125.1L127.7,127.2L128.1,129.2L128.5,131.2L128.9,133.2L129.3,135.0L129.7,136.8L130.1,138.4L130.5,140.1L130.9,141.7L131.3,143.3L131.7,144.8L132.1,146.4L132.5,148.0L132.9,149.6L133.3,151.3L133.7,153.0L134.1,154.6L134.5,156.3L134.9,157.9L135.3,159.4L135.7,160.8L136.1,162.2L136.5,163.5L136.9,164.8L137.3,166.2L137.7,167.6L138.1,168.9L138.5,170.2L138.9,171.2L139.3,172.1L139.7,172.7L140.1,173.1L140.5,173.0L140.9,172.4L141.3,171.3L141.7,169.9L142.1,168.3L142.5,166.7L142.9,165.2L143.3,163.8L143.7,162.2L144.1,160.4L144.5,158.6L144.9,156.8L145.3,155.3L145.7,154.0L146.1,153.3L146.5,153.1L146.9,154.0L147.3,155.6L147.7,157.5L148.1,159.4L148.5,160.8L148.9,161.5L149.3,162.1L149.7,162.3L150.1,161.9L150.5,161.2L150.9,160.4L151.3,159.9L151.7,159.8L152.1,161.3L152.5,163.9L152.9,166.5L153.3,168.3L153.7,170.0L154.1,171.6L154.5,173.1L154.9,174.6L155.3,176.1L155.7,177.7L156.1,179.3L156.5,180.9L156.9,182.4L157.3,183.7L157.7,184.9L158.1,185.9L158.5,186.9L158.9,187.7L159.3,188.5L159.7,189.3L160.1,190.0L160.5,190.7L160.9,191.3L161.3,192.0L161.7,192.5L162.1,193.1L162.5,193.6L162.9,194.2L163.3,194.7L163.7,195.1L164.1,195.6L164.5,196.0L164.9,196.5L165.3,196.9L165.7,197.3L166.1,197.7L166.5,198.1L166.9,198.5L167.3,198.8L167.7,199.2L168.1,199.5L168.5,199.9L168.9,200.2L169.3,200.5L169.7,200.8L170.1,201.1L170.5,201.4L170.9,201.7L171.3,202.0L171.7,202.3L172.1,202.6L172.5,202.9L172.9,203.1L173.3,203.4L173.7,203.7L174.1,203.9L174.5,204.2L174.9,204.4L175.3,204.7L175.7,205.0L176.1,205.2L176.5,205.5L176.9,205.8L177.3,206.1L177.7,206.5L178.1,206.9L178.5,207.3L178.9,207.8L179.3,208.2L179.7,208.7L180.1,209.1L180.5,209.5L180.9,209.8L181.3,210.1L181.7,210.4L182.1,210.6L182.5,210.8L182.9,211.0L183.3,211.2L183.7,211.4L184.1,211.6L184.5,211.8L184.9,211.9L185.3,212.1L185.7,212.3L186.1,212.4L186.5,212.6L186.9,212.8L187.3,213.0L187.7,213.2L188.1,213.4L188.5,213.6L188.9,213.8L189.3,214.1L189.7,214.3L190.1,214.6L190.5,214.8L190.9,215.1L191.3,215.4L191.7,215.7L192.1,215.9L192.5,216.2L192.9,216.5L193.3,216.8L193.7,217.1L194.1,217.3L194.5,217.6L194.9,217.9L195.3,218.1L195.7,218.4L196.1,218.6L196.5,218.9L196.9,219.2L197.3,219.5L197.7,219.8L198.1,220.1L198.5,220.3L198.9,220.6L199.3,220.8L199.7,221.0L200.1,221.2L200.5,221.3L200.9,221.4L201.3,221.4L201.7,221.2L202.1,220.6L202.5,219.9L202.9,219.3L203.3,218.8L203.7,218.3L204.1,217.8L204.5,217.4L204.9,217.1L205.3,217.0L205.7,217.0L206.1,217.1L206.5,217.2L206.9,217.4L207.3,217.5L207.7,218.0L208.1,218.9L208.5,220.1L208.9,221.2L209.3,221.9L209.7,222.6L210.1,223.3L210.5,223.9L210.9,224.4L211.3,224.9L211.7,225.2L212.1,225.5L212.5,225.8L212.9,226.0L213.3,226.2L213.7,226.3L214.1,226.4L214.5,226.5L214.9,226.6L215.3,226.7L215.7,226.7L216.1,226.8L216.5,226.8L216.9,226.8L217.3,226.9L217.7,226.9L218.1,227.0L218.5,227.0L218.9,227.1L219.3,227.2L219.7,227.2L220.1,227.3L220.5,227.4L220.9,227.6L221.3,227.7L221.7,227.8L222.1,227.9L222.5,228.1L222.9,228.2L223.3,228.4L223.7,228.6L223.8,228.6" stroke="#0000ff"/>
<path d="M232.1,226.6L232.5,226.6L232.9,226.6L233.3,226.6L233.7,226.5L234.1,226.5L234.5,226.5L234.9,226.4L235.3,226.4L235.7,226.4L236.1,226.3L236.5,226.2L236.9,226.2L237.3,226.1L237.7,226.1L238.1,226.0L238.5,226.0L238.9,225.9L239.3,225.8L239.7,225.7L240.1,225.6L240.5,225.5L240.9,225.4L241.3,225.2L241.7,225.1L242.1,225.0L242.5,224.8L242.9,224.6L243.3,224.4L243.7,224.3L244.1,224.0L244.5,223.8L244.9,223.5L245.3,223.1L245.7,222.8L246.1,222.4L246.5,222.0L246.9,221.6L247.3,221.1L247.7,220.7L248.1,220.2L248.5,219.7L248.9,219.1L249.3,218.5L249.7,217.9L250.1,217.1L250.5,216.4L250.9,215.5L251.3,214.6L251.7,213.4L252.1,212.0L252.5,210.3L252.9,208.6L253.3,206.8L253.7,204.9L254.1,202.9L254.5,200.8L254.9,198.4L255.3,195.8L255.7,193.3L256.1,191.1L256.5,189.4L256.9,188.0L257.3,186.9L257.7,186.0L258.1,185.3L258.5,184.8L258.9,184.4L259.3,184.3L259.7,184.5L260.1,184.9L260.5,185.5L260.9,186.2L261.3,187.5L261.7,189.2L262.1,190.8L262.5,192.0L262.9,192.7L263.3,193.3L263.7,193.8L264.1,194.2L264.5,194.6L264.9,194.9L265.3,195.2L265.7,195.6L266.1,195.9L266.5,196.1L266.9,196.3L267.3,196.4L267.7,196.3L268.1,196.1L268.5,195.8L268.9,195.3L269.3,194.8L269.7,194.3L270.1,193.9L270.5,193.4L270.9,192.9L271.3,192.4L271.7,191.9L272.1,191.3L272.5,190.8L272.9,190.2L273.3,189.6L273.7,189.0L274.1,188.4L274.5,187.8L274.9,187.2L275.3,186.5L275.7,185.9L276.1,185.2L276.5,184.6L276.9,183.9L277.3,183.2L277.7,182.5L278.1,181.7L278.5,181.0L278.9,180.2L279.3,179.4L279.7,178.4L280.1,177.4L280.5,176.5L280.9,175.7L281.3,175.0L281.7,174.3L282.1,173.8L282.5,173.4L282.9,173.3L283.3,173.6L283.7,174.0L284.1,174.7L284.5,175.3L284.9,176.0L285.3,176.8L285.7,177.7L286.1,178.7L286.5,179.7L286.9,180.6L287.3,181.7L287.7,182.7L288.1,183.8L288.5,184.9L288.9,186.0L289.3,187.2L289.7,188.3L290.1,189.5L290.5,190.6L290.9,191.7L291.3,192.8L291.7,194.0L292.1,195.1L292.5,196.3L292.9,197.4L293.3,198.6L293.7,199.7L294.1,200.8L294.5,201.8L294.9,203.0L295.3,204.1L295.7,205.1L296.1,206.0L296.5,206.8L296.9,207.5L297.3,208.1L297.7,208.7L298.1,209.1L298.5,209.4L298.9,209.4L299.3,209.3L299.7,209.2L300.1,209.1L300.5,209.0L300.9,208.9L301.3,208.9L301.7,209.0L302.1,209.2L302.5,209.5L302.9,209.9L303.3,210.3L303.7,210.7L304.1,211.0L304.5,211.2L304.9,211.2L305.3,211.1L305.7,210.9L306.1,210.6L306.5,210.2L306.9,209.8L307.3,209.3L307.7,208.8L308.1,208.1L308.5,206.8L308.9,204.9L309.3,202.9L309.7,201.3L310.1,200.1L310.5,198.8L310.9,197.7L311.3,196.6L311.7,195.5L312.1,194.5L312.5,193.6L312.9,192.8L313.3,192.0L313.7,191.4L314.1,190.9L314.5,190.5L314.9,190.2L315.3,190.0L315.7,189.7L316.1,189.4L316.5,189.0L316.9,188.5L317.3,188.0L317.7,187.5L318.1,186.9L318.5,186.2L318.9,185.6L319.3,185.0L319.7,184.3L320.1,183.6L320.5,182.9L320.9,182.1L321.3,181.3L321.7,180.6L322.1,180.0L322.5,179.5L322.9,179.1L323.3,178.8L323.7,178.5L324.1,178.2L324.5,177.9L324.9,177.7L325.3,177.6L325.7,177.6L326.1,177.8L326.5,178.1L326.9,178.5L327.3,179.1L327.7,179.7L328.1,180.3L328.5,180.9L328.9,181.4L329.3,181.8L329.7,182.1L330.1,182.4L330.5,182.7L330.9,183.0L331.3,183.3L331.7,183.5L332.1,183.7L332.5,183.9L332.9,184.1L333.3,184.2L333.7,184.2L334.1,184.2L334.5,184.2L334.9,184.1L335.3,184.1L335.7,184.0L336.1,183.9L336.5,183.9L336.9,183.8L337.3,183.7L337.7,183.6L338.1,183.6L338.5,183.5L338.9,183.5L339.3,183.5L339.7,183.5L340.1,183.6L340.5,183.8L340.9,184.0L341.3,184.3L341.7,184.5L342.1,184.8L342.5,185.2L342.9,185.5L343.3,185.8L343.7,186.2L344.1,186.5L344.5,186.7L344.9,187.0L345.3,187.2L345.7,187.4L346.1,187.5L346.5,187.5L346.9,187.5L347.3,187.5L347.7,187.4L348.1,187.3L348.5,187.2L348.9,187.1L349.3,187.0L349.7,186.9L350.1,186.8L350.5,186.7L350.9,186.6L351.3,186.5L351.7,186.4L352.1,186.4L352.5,186.3L352.9,186.3L353.3,186.3L353.7,186.2L354.1,186.2L354.5,186.2L354.9,186.1L355.3,186.1L355.7,186.0L356.1,186.0L356.5,186.0L356.9,185.9L357.3,185.8L357.7,185.7L358.1,185.6L358.5,185.3L358.9,185.0L359.3,184.7L359.7,184.3L360.1,183.9L360.5,183.5L360.9,183.2L361.3,182.9L361.7,182.7L362.1,182.5L362.5,182.5L362.9,182.6L363.3,182.7L363.7,182.9L364.1,183.2L364.5,183.5L364.9,183.8L365.3,184.2L365.7,184.6L366.1,185.1L366.5,185.6L366.9,186.3L367.3,187.2L367.7,188.2L368.1,189.3L368.5,190.3L368.9,191.1L369.3,191.8L369.7,192.5L370.1,193.1L370.5,193.7L370.9,194.3L371.3,194.8L371.7,195.3L372.1,195.7L372.5,196.0L372.9,196.3L373.3,196.6L373.7,196.9L374.1,197.2L374.5,197.4L374.9,197.7L375.3,197.8L375.7,198.0L376.1,198.1L376.5,198.1L376.9,198.0L377.3,197.8L377.7,197.5L378.1,197.0L378.5,196.4L378.9,195.8L379.3,195.2L379.7,194.4L380.1,193.7L380.5,193.0L380.9,192.2L381.3,191.3L381.7,190.2L382.1,189.1L382.5,187.9L382.9,186.6L383.3,185.2L383.7,183.8L384.1,182.3L384.5,180.8L384.9,179.4L385.3,177.8L385.7,176.0L386.1,174.2L386.5,172.4L386.9,170.8L387.3,169.5L387.7,168.1L388.1,166.8L388.5,166.1L388.9,166.0L389.3,166.2L389.7,166.5L390.1,166.9L390.5,167.1L390.9,167.5L391.3,167.8L391.7,168.0L392.1,168.1L392.5,168.0L392.9,167.7L393.3,167.4L393.7,166.9L394.1,166.4L394.5,165.7L394.9,165.0L395.3,164.3L395.7,163.5L396.1,162.4L396.5,160.9L396.9,159.0L397.3,157.0L397.7,154.9L398.1,152.9L398.5,151.2L398.9,149.7L399.3,148.2L399.7,146.7L400.1,145.0L400.5,142.7L400.9,140.0L401.3,137.1L401.7,134.4L402.1,132.2L402.5,130.9L402.9,129.7L403.3,128.9L403.7,128.7L404.1,129.2L404.5,130.1L404.9,131.5L405.3,135.9L405.7,142.5L406.1,146.7L406.5,149.7L406.9,152.2L407.3,154.7L407.7,157.5L408.1,160.8L408.5,164.0L408.9,166.6L409.3,168.3L409.7,169.7L410.1,171.0L410.5,172.1L410.9,172.7L411.3,173.0L411.7,173.0L412.1,172.9L412.5,172.7L412.9,172.6L413.3,172.6L413.7,173.1L414.1,174.4L414.5,176.0L414.9,178.4L415.3,181.7L415.7,184.8L416.1,187.0L416.5,188.9L416.9,190.7L417.3,192.4L417.7,193.9L418.1,195.2L418.5,196.4L418.9,197.3L419.3,198.1L419.7,198.9L420.1,199.6L420.5,200.3L420.9,200.9L421.3,201.4L421.7,201.7L422.1,201.9L422.5,202.0L422.9,201.8L423.3,201.3L423.7,200.6L424.1,199.7L424.5,198.8L424.9,197.8L425.3,196.9L425.7,196.0L426.1,195.3L426.5,194.8L426.9,194.6L427.3,194.7L427.7,195.0L428.1,195.6L428.5,196.3L428.9,197.0L429.3,197.9L429.7,198.6L430.1,199.3L430.5,199.9L430.9,200.5L431.3,201.1L431.7,201.7L432.1,202.4L432.5,202.9L432.9,203.5L433.3,203.9L433.7,204.3L434.1,204.5L434.5,204.6L434.9,204.5L435.3,204.3L435.7,204.0L436.1,203.5L436.5,203.0L436.9,202.5L437.3,201.9L437.7,201.3L438.1,200.7L438.5,200.2L438.9,199.7L439.3,199.4L439.7,199.1L440.1,199.0L440.5,199.0L440.9,199.0L441.3,199.0L441.7,199.0L442.1,199.0L442.5,199.0L442.9,199.0L443.3,199.0L443.7,199.0L444.1,199.1L444.5,199.2L444.9,199.4L445.3,199.6L445.7,199.8L446.1,200.1L446.5,200.4L446.9,200.6L447.3,200.9L447.7,201.1L448.1,201.3L448.5,201.5L448.9,201.6L449.3,201.6L449.7,201.7L450.1,201.8L450.5,201.8L450.9,201.9L451.3,201.9L451.7,201.9L452.1,202.0L452.5,202.0L452.9,202.0L453.3,202.0L453.7,202.0L454.1,202.0L454.5,201.9L454.9,201.8L455.3,201.7L455.7,201.6L456.1,201.4L456.5,201.3L456.9,201.1L457.3,200.9L457.7,200.7L458.1,200.6L458.5,200.4L458.9,200.2L459.3,200.0L459.7,199.8L460.1,199.6L460.5,199.5L460.9,199.3L461.3,199.1L461.7,198.9L462.1,198.8L462.5,198.6L462.9,198.4L463.3,198.2L463.7,198.0L464.1,197.8L464.5,197.6L464.9,197.4L465.3,197.2L465.7,197.0L466.1,196.8L466.5,196.6L466.9,196.4L467.3,196.2L467.7,196.0L468.1,195.8L468.5,195.6L468.9,195.4L469.3,195.3L469.7,195.1L470.1,194.9L470.5,194.7L470.9,194.5L471.3,194.3L471.7,194.1L472.1,194.0L472.5,193.8L472.9,193.6L473.3,193.4L473.7,193.2L474.1,193.0L474.5,192.8L474.9,192.6L475.3,192.3L475.7,192.1L476.1,191.8L476.5,191.4L476.9,191.0L477.3,190.6L477.7,190.1L478.1,189.6L478.5,189.2L478.9,188.8L479.3,188.5L479.7,188.2L480.1,188.1L480.5,188.1L480.9,188.0L481.3,188.0L481.7,188.0L482.1,188.0L482.5,187.9L482.9,187.9L483.3,187.9L483.7,187.9L484.1,187.9L484.5,187.9L484.9,187.9L485.3,187.8L485.7,187.8L486.1,187.8L486.5,187.8L486.9,187.8L487.3,187.8L487.7,187.8L488.1,187.7L488.5,187.7L488.9,187.7L489.3,187.7L489.7,187.7L490.1,187.7L490.5,187.7L490.9,187.6L491.3,187.6L491.7,187.6L492.1,187.6L492.5,187.6L492.9,187.6L493.3,187.6L493.7,187.6L494.1,187.7L494.5,187.8L494.9,188.0L495.3,188.2L495.7,188.5L496.1,188.7L496.5,188.9L496.9,189.2L497.3,189.4L497.7,189.6L498.1,189.7L498.5,189.8L498.9,189.8L499.3,189.8L499.7,189.7L500.1,189.7L500.5,189.6L500.9,189.5L501.3,189.4L501.7,189.3L502.1,189.2L502.5,189.2L502.9,189.1L503.3,189.0L503.7,188.9L504.1,188.8L504.5,188.8L504.9,188.7L505.3,188.7L505.7,188.7L506.1,188.7L506.5,188.8L506.9,188.9L507.3,189.0L507.7,189.2L508.1,189.3L508.5,189.5L508.9,189.6L509.3,189.8L509.7,190.0L510.1,190.2L510.5,190.4L510.9,190.5L511.3,190.7L511.7,190.8L512.1,190.9L512.5,191.0L512.9,191.1L513.3,191.2L513.7,191.3L514.1,191.4L514.5,191.5L514.9,191.6L515.3,191.7L515.7,191.7L516.1,191.8L516.5,191.9L516.9,192.0L517.3,192.1L517.7,192.2L518.1,192.3L518.5,192.4L518.9,192.5L519.3,192.6L519.7,192.7L520.1,192.8L520.5,193.0L520.9,193.1L521.3,193.3L521.7,193.6L522.1,193.8L522.5,194.1L522.9,194.5L523.3,194.8L523.7,195.2L524.1,195.5L524.5,195.8L524.9,196.2L525.3,196.5L525.7,196.8L526.1,197.1L526.5,197.4L526.9,197.8L527.3,198.1L527.7,198.4L528.1,198.7L528.5,199.0L528.9,199.3L529.3,199.5L529.7,199.8L530.1,200.0L530.5,200.2L530.9,200.4L531.3,200.6L531.7,200.8L532.1,201.0L532.5,201.1L532.9,201.2L533.3,201.3L533.7,201.4L534.1,201.4L534.5,201.3L534.9,201.2L535.3,201.1L535.7,201.0L536.1,201.0L536.5,201.5L536.9,202.2L537.3,202.4L537.7,202.2L538.1,201.9L538.5,201.8L538.9,202.3L539.3,203.1L539.7,203.6L540.1,204.0L540.5,204.3L540.9,204.6L541.1,204.7" stroke="#0000ff"/>
<path d="M60.1,233.8L60.5,233.6L60.9,233.4L61.3,233.2L61.7,233.1L62.1,232.9L62.5,232.7L62.9,232.6L63.3,232.5L63.7,232.3L64.1,232.2L64.5,232.1L64.9,232.0L65.3,231.9L65.7,231.8L66.1,231.8L66.5,231.7L66.9,231.7L67.3,231.6L67.7,231.5L68.1,231.4L68.5,231.3L68.9,231.2L69.3,231.1L69.7,231.0L70.1,230.8L70.5,230.5L70.9,230.2L71.3,229.8L71.7,229.4L72.1,228.9L72.5,228.4L72.9,227.8L73.3,227.0L73.7,226.1L74.1,225.1L74.5,224.0L74.9,222.7L75.3,221.2L75.7,219.7L76.1,218.2L76.5,216.6L76.9,214.9L77.3,213.1L77.7,211.3L78.1,209.6L78.5,207.8L78.9,206.0L79.3,204.2L79.7,202.3L80.1,200.3L80.5,198.1L80.9,195.9L81.3,193.7L81.7,191.4L82.1,189.2L82.5,186.9L82.9,184.6L83.3,182.2L83.7,179.7L84.1,177.2L84.5,174.5L84.9,171.8L85.3,169.2L85.7,166.5L86.1,163.9L86.5,161.3L86.9,158.7L87.3,156.3L87.7,153.8L88.1,151.4L88.5,148.9L88.9,146.4L89.3,143.7L89.7,141.0L90.1,138.3L90.5,135.7L90.9,133.0L91.3,130.4L91.7,127.7L92.1,125.0L92.5,122.4L92.9,119.8L93.3,117.3L93.7,114.8L94.1,112.3L94.5,109.9L94.9,107.5L95.3,105.1L95.7,102.7L96.1,100.4L96.5,98.1L96.9,95.7L97.3,93.4L97.7,91.1L98.1,89.0L98.5,87.0L98.9,85.2L99.3,83.5L99.7,81.9L100.1,80.4L100.5,79.0L100.9,77.6L101.3,76.3L101.7,75.0L102.1,73.9L102.5,72.8L102.9,71.7L103.3,70.7L103.7,69.8L104.1,69.1L104.5,68.5L104.9,67.9L105.3,67.4L105.7,67.0L106.1,66.7L106.5,66.6L106.9,66.4L107.3,66.2L107.7,66.1L108.1,66.0L108.5,66.0L108.9,66.0L109.3,66.1L109.7,66.2L110.1,66.4L110.5,66.6L110.9,66.7L111.3,67.0L111.7,67.4L112.1,67.9L112.5,68.5L112.9,69.1L113.3,69.8L113.7,70.7L114.1,71.6L114.5,72.6L114.9,73.6L115.3,74.6L115.7,75.7L116.1,76.9L116.5,78.1L116.9,79.3L117.3,80.6L117.7,81.9L118.1,83.2L118.5,84.6L118.9,86.1L119.3,87.7L119.7,89.4L120.1,91.2L120.5,93.0L120.9,94.9L121.3,96.8L121.7,98.6L122.1,100.5L122.5,102.3L122.9,104.1L123.3,105.9L123.7,107.8L124.1,109.6L124.5,111.5L124.9,113.3L125.3,115.1L125.7,116.9L126.1,118.7L126.5,120.5L126.9,122.4L127.3,124.2L127.7,126.0L128.1,127.8L128.5,129.5L128.9,131.2L129.3,132.9L129.7,134.6L130.1,136.2L130.5,137.7L130.9,139.2L131.3,140.7L131.7,142.2L132.1,143.7L132.5,145.1L132.9,146.6L133.3,148.2L133.7,149.8L134.1,151.4L134.5,153.1L134.9,154.7L135.3,156.3L135.7,157.8L136.1,159.2L136.5,160.5L136.9,161.7L137.3,163.1L137.7,164.4L138.1,165.7L138.5,166.9L138.9,167.9L139.3,168.8L139.7,169.4L140.1,169.8L140.5,169.7L140.9,169.1L141.3,168.1L141.7,166.8L142.1,165.2L142.5,163.6L142.9,162.2L143.3,160.8L143.7,159.3L144.1,157.5L144.5,155.7L144.9,154.0L145.3,152.5L145.7,151.3L146.1,150.6L146.5,150.4L146.9,151.1L147.3,152.3L147.7,153.8L148.1,155.3L148.5,156.6L148.9,157.4L149.3,158.1L149.7,158.5L150.1,158.5L150.5,158.1L150.9,157.6L151.3,157.1L151.7,157.1L152.1,159.1L152.5,162.5L152.9,165.5L153.3,167.3L153.7,168.7L154.1,170.0L154.5,171.2L154.9,172.3L155.3,173.3L155.7,174.2L156.1,175.3L156.5,176.5L156.9,177.8L157.3,179.2L157.7,180.6L158.1,181.9L158.5,183.0L158.9,184.0L159.3,184.9L159.7,185.7L160.1,186.5L160.5,187.3L160.9,188.0L161.3,188.7L161.7,189.3L162.1,189.9L162.5,190.5L162.9,191.1L163.3,191.6L163.7,192.2L164.1,192.7L164.5,193.2L164.9,193.7L165.3,194.1L165.7,194.6L166.1,195.0L166.5,195.5L166.9,195.9L167.3,196.3L167.7,196.6L168.1,197.0L168.5,197.3L168.9,197.7L169.3,198.0L169.7,198.2L170.1,198.5L170.5,198.8L170.9,199.0L171.3,199.2L171.7,199.5L172.1,199.7L172.5,199.9L172.9,200.2L173.3,200.4L173.7,200.7L174.1,200.9L174.5,201.1L174.9,201.4L175.3,201.6L175.7,201.8L176.1,202.1L176.5,202.3L176.9,202.5L177.3,202.8L177.7,203.0L178.1,203.3L178.5,203.5L178.9,203.8L179.3,204.1L179.7,204.4L180.1,204.7L180.5,204.9L180.9,205.2L181.3,205.6L181.7,205.9L182.1,206.2L182.5,206.5L182.9,206.8L183.3,207.1L183.7,207.4L184.1,207.7L184.5,208.0L184.9,208.3L185.3,208.6L185.7,208.9L186.1,209.2L186.5,209.5L186.9,209.8L187.3,210.1L187.7,210.4L188.1,210.8L188.5,211.1L188.9,211.4L189.3,211.7L189.7,212.0L190.1,212.3L190.5,212.7L190.9,213.0L191.3,213.4L191.7,213.7L192.1,214.1L192.5,214.4L192.9,214.8L193.3,215.1L193.7,215.5L194.1,215.8L194.5,216.1L194.9,216.5L195.3,216.8L195.7,217.1L196.1,217.4L196.5,217.7L196.9,217.9L197.3,218.2L197.7,218.4L198.1,218.6L198.5,218.8L198.9,219.0L199.3,219.2L199.7,219.4L200.1,219.6L200.5,219.8L200.9,220.1L201.3,220.4L201.7,220.7L202.1,221.1L202.5,221.7L202.9,222.4L203.3,223.1L203.7,223.8L204.1,224.2L204.5,224.5L204.9,224.8L205.3,225.0L205.7,225.2L206.1,225.4L206.5,225.5L206.9,225.5L207.3,225.4L207.7,225.3L208.1,225.1L208.5,225.0L208.9,224.8L209.3,224.7L209.7,224.7L210.1,224.7L210.5,224.8L210.9,224.8L211.3,224.9L211.7,225.0L212.1,225.1L212.5,225.1L212.9,225.2L213.3,225.3L213.7,225.4L214.1,225.5L214.5,225.6L214.9,225.7L215.3,225.8L215.7,225.9L216.1,226.0L216.5,226.1L216.9,226.2L217.3,226.3L217.7,226.4L218.1,226.5L218.5,226.6L218.9,226.7L219.3,226.8L219.7,227.0L220.1,227.1L220.5,227.2L220.9,227.3L221.3,227.5L221.7,227.6L222.1,227.8L222.5,227.9L222.9,228.1L223.3,228.2L223.7,228.4L223.8,228.4" stroke="#00ffff"/>
<path d="M232.1,226.4L232.5,226.4L232.9,226.4L233.3,226.4L233.7,226.3L234.1,226.3L234.5,226.3L234.9,226.2L235.3,226.2L235.7,226.2L236.1,226.1L236.5,226.1L236.9,226.0L237.3,225.9L237.7,225.9L238.1,225.8L238.5,225.8L238.9,225.7L239.3,225.6L239.7,225.5L240.1,225.4L240.5,225.2L240.9,225.1L241.3,225.0L241.7,224.8L242.1,224.7L242.5,224.5L242.9,224.3L243.3,224.1L243.7,223.9L244.1,223.6L244.5,223.3L244.9,223.0L245.3,222.7L245.7,222.3L246.1,221.9L246.5,221.5L246.9,221.0L247.3,220.5L247.7,220.1L248.1,219.5L248.5,218.9L248.9,218.3L249.3,217.6L249.7,216.8L250.1,216.0L250.5,215.0L250.9,214.0L251.3,212.8L251.7,211.3L252.1,209.5L252.5,207.7L252.9,205.6L253.3,203.2L253.7,200.6L254.1,197.7L254.5,194.5L254.9,191.2L255.3,188.1L255.7,185.4L256.1,183.3L256.5,181.4L256.9,179.8L257.3,178.5L257.7,177.6L258.1,176.7L258.5,176.1L258.9,175.6L259.3,175.5L259.7,175.8L260.1,176.5L260.5,177.3L260.9,178.2L261.3,179.6L261.7,181.3L262.1,183.0L262.5,184.3L262.9,185.3L263.3,186.2L263.7,187.0L264.1,187.8L264.5,188.4L264.9,189.1L265.3,189.7L265.7,190.3L266.1,190.9L266.5,191.6L266.9,192.2L267.3,192.8L267.7,193.2L268.1,193.5L268.5,193.6L268.9,193.5L269.3,193.3L269.7,193.0L270.1,192.6L270.5,192.2L270.9,191.7L271.3,191.2L271.7,190.8L272.1,190.3L272.5,189.7L272.9,189.1L273.3,188.5L273.7,187.9L274.1,187.3L274.5,186.6L274.9,186.1L275.3,185.4L275.7,184.8L276.1,184.2L276.5,183.5L276.9,182.9L277.3,182.3L277.7,181.7L278.1,181.1L278.5,180.6L278.9,180.1L279.3,179.7L279.7,179.2L280.1,178.7L280.5,178.3L280.9,177.9L281.3,177.5L281.7,177.3L282.1,177.1L282.5,177.1L282.9,177.4L283.3,177.8L283.7,178.4L284.1,179.1L284.5,180.0L284.9,180.8L285.3,181.7L285.7,182.6L286.1,183.4L286.5,184.2L286.9,185.1L287.3,186.1L287.7,187.0L288.1,188.0L288.5,189.1L288.9,190.1L289.3,191.2L289.7,192.3L290.1,193.4L290.5,194.5L290.9,195.6L291.3,196.7L291.7,198.0L292.1,199.2L292.5,200.3L292.9,201.3L293.3,202.2L293.7,203.0L294.1,203.7L294.5,204.4L294.9,205.1L295.3,205.7L295.7,206.2L296.1,206.8L296.5,207.3L296.9,207.8L297.3,208.3L297.7,208.7L298.1,209.0L298.5,209.2L298.9,209.2L299.3,209.1L299.7,209.0L300.1,208.9L300.5,208.8L300.9,208.7L301.3,208.7L301.7,208.8L302.1,209.0L302.5,209.3L302.9,209.7L303.3,210.0L303.7,210.4L304.1,210.7L304.5,210.9L304.9,210.9L305.3,210.8L305.7,210.6L306.1,210.3L306.5,209.9L306.9,209.5L307.3,209.0L307.7,208.5L308.1,208.0L308.5,207.2L308.9,206.3L309.3,205.3L309.7,204.1L310.1,202.9L310.5,201.8L310.9,200.7L311.3,199.7L311.7,198.7L312.1,197.6L312.5,196.6L312.9,195.6L313.3,194.8L313.7,194.0L314.1,193.4L314.5,192.8L314.9,192.2L315.3,191.7L315.7,191.1L316.1,190.5L316.5,190.0L316.9,189.4L317.3,188.8L317.7,188.1L318.1,187.3L318.5,186.4L318.9,185.5L319.3,184.6L319.7,183.8L320.1,183.0L320.5,182.2L320.9,181.4L321.3,180.7L321.7,180.0L322.1,179.4L322.5,179.0L322.9,178.6L323.3,178.3L323.7,178.0L324.1,177.7L324.5,177.4L324.9,177.2L325.3,177.1L325.7,177.1L326.1,177.3L326.5,177.6L326.9,178.0L327.3,178.6L327.7,179.2L328.1,179.8L328.5,180.4L328.9,180.9L329.3,181.3L329.7,181.6L330.1,181.9L330.5,182.2L330.9,182.5L331.3,182.8L331.7,183.0L332.1,183.2L332.5,183.4L332.9,183.6L333.3,183.7L333.7,183.7L334.1,183.7L334.5,183.7L334.9,183.6L335.3,183.5L335.7,183.5L336.1,183.4L336.5,183.3L336.9,183.2L337.3,183.1L337.7,183.0L338.1,182.9L338.5,182.9L338.9,182.8L339.3,182.8L339.7,182.8L340.1,182.9L340.5,183.1L340.9,183.3L341.3,183.5L341.7,183.7L342.1,184.0L342.5,184.3L342.9,184.6L343.3,184.9L343.7,185.2L344.1,185.5L344.5,185.7L344.9,185.9L345.3,186.1L345.7,186.3L346.1,186.4L346.5,186.4L346.9,186.4L347.3,186.3L347.7,186.2L348.1,186.1L348.5,185.9L348.9,185.7L349.3,185.5L349.7,185.3L350.1,185.1L350.5,184.9L350.9,184.7L351.3,184.5L351.7,184.3L352.1,184.2L352.5,184.0L352.9,183.9L353.3,183.8L353.7,183.7L354.1,183.6L354.5,183.5L354.9,183.3L355.3,183.2L355.7,183.1L356.1,183.0L356.5,182.9L356.9,182.7L357.3,182.6L357.7,182.4L358.1,182.2L358.5,182.0L358.9,181.7L359.3,181.4L359.7,181.1L360.1,180.8L360.5,180.5L360.9,180.3L361.3,180.1L361.7,179.9L362.1,179.8L362.5,179.8L362.9,179.8L363.3,180.0L363.7,180.1L364.1,180.3L364.5,180.6L364.9,180.8L365.3,181.1L365.7,181.5L366.1,181.8L366.5,182.2L366.9,182.8L367.3,183.6L367.7,184.4L368.1,185.4L368.5,186.3L368.9,187.3L369.3,188.1L369.7,188.8L370.1,189.4L370.5,190.0L370.9,190.5L371.3,191.1L371.7,191.6L372.1,192.0L372.5,192.5L372.9,192.9L373.3,193.3L373.7,193.7L374.1,194.1L374.5,194.5L374.9,194.9L375.3,195.2L375.7,195.6L376.1,195.9L376.5,196.1L376.9,196.3L377.3,196.4L377.7,196.4L378.1,196.3L378.5,196.0L378.9,195.5L379.3,195.0L379.7,194.4L380.1,193.7L380.5,192.9L380.9,192.2L381.3,191.4L381.7,190.5L382.1,189.4L382.5,188.1L382.9,186.8L383.3,185.4L383.7,183.9L384.1,182.3L384.5,180.7L384.9,179.1L385.3,177.4L385.7,175.3L386.1,173.2L386.5,171.1L386.9,169.4L387.3,167.9L387.7,166.4L388.1,165.1L388.5,164.3L388.9,164.2L389.3,164.4L389.7,164.6L390.1,164.9L390.5,165.2L390.9,165.5L391.3,165.8L391.7,166.1L392.1,166.3L392.5,166.4L392.9,166.4L393.3,166.2L393.7,165.9L394.1,165.4L394.5,164.9L394.9,164.3L395.3,163.7L395.7,163.0L396.1,162.2L396.5,161.0L396.9,159.4L397.3,157.6L397.7,155.7L398.1,153.8L398.5,152.0L398.9,150.5L399.3,149.0L399.7,147.5L400.1,145.9L400.5,144.0L400.9,141.4L401.3,138.6L401.7,135.9L402.1,133.7L402.5,132.4L402.9,131.3L403.3,130.6L403.7,130.4L404.1,130.8L404.5,131.7L404.9,133.0L405.3,137.5L405.7,143.9L406.1,147.6L406.5,150.4L406.9,152.8L407.3,155.3L407.7,158.2L408.1,161.4L408.5,164.3L408.9,166.6L409.3,168.1L409.7,169.5L410.1,170.7L410.5,171.6L410.9,172.3L411.3,172.5L411.7,172.5L412.1,172.3L412.5,172.2L412.9,172.1L413.3,172.0L413.7,172.2L414.1,173.6L414.5,175.5L414.9,177.8L415.3,181.0L415.7,184.2L416.1,186.5L416.5,188.3L416.9,189.9L417.3,191.5L417.7,192.9L418.1,194.1L418.5,195.2L418.9,196.2L419.3,197.0L419.7,197.8L420.1,198.5L420.5,199.2L420.9,199.9L421.3,200.5L421.7,200.9L422.1,201.3L422.5,201.4L422.9,201.3L423.3,200.9L423.7,200.3L424.1,199.5L424.5,198.5L424.9,197.6L425.3,196.6L425.7,195.7L426.1,195.0L426.5,194.5L426.9,194.2L427.3,194.3L427.7,194.6L428.1,195.2L428.5,195.9L428.9,196.7L429.3,197.5L429.7,198.2L430.1,198.9L430.5,199.5L430.9,200.0L431.3,200.6L431.7,201.2L432.1,201.8L432.5,202.4L432.9,202.9L433.3,203.3L433.7,203.7L434.1,203.9L434.5,204.1L434.9,204.1L435.3,203.9L435.7,203.6L436.1,203.2L436.5,202.7L436.9,202.2L437.3,201.6L437.7,201.0L438.1,200.4L438.5,199.9L438.9,199.4L439.3,199.0L439.7,198.7L440.1,198.6L440.5,198.6L440.9,198.6L441.3,198.6L441.7,198.6L442.1,198.6L442.5,198.6L442.9,198.6L443.3,198.6L443.7,198.6L444.1,198.7L444.5,198.8L444.9,199.0L445.3,199.2L445.7,199.5L446.1,199.8L446.5,200.1L446.9,200.3L447.3,200.6L447.7,200.9L448.1,201.1L448.5,201.3L448.9,201.4L449.3,201.5L449.7,201.5L450.1,201.6L450.5,201.7L450.9,201.7L451.3,201.8L451.7,201.8L452.1,201.8L452.5,201.9L452.9,201.9L453.3,201.9L453.7,201.9L454.1,201.9L454.5,201.8L454.9,201.7L455.3,201.6L455.7,201.5L456.1,201.4L456.5,201.3L456.9,201.1L457.3,201.0L457.7,200.8L458.1,200.6L458.5,200.5L458.9,200.3L459.3,200.1L459.7,200.0L460.1,199.8L460.5,199.7L460.9,199.5L461.3,199.4L461.7,199.2L462.1,199.0L462.5,198.9L462.9,198.7L463.3,198.5L463.7,198.3L464.1,198.1L464.5,198.0L464.9,197.8L465.3,197.6L465.7,197.4L466.1,197.2L466.5,197.0L466.9,196.8L467.3,196.6L467.7,196.5L468.1,196.3L468.5,196.1L468.9,195.9L469.3,195.8L469.7,195.6L470.1,195.4L470.5,195.3L470.9,195.1L471.3,194.9L471.7,194.8L472.1,194.6L472.5,194.5L472.9,194.3L473.3,194.2L473.7,194.0L474.1,193.8L474.5,193.7L474.9,193.5L475.3,193.3L475.7,193.1L476.1,193.0L476.5,192.8L476.9,192.6L477.3,192.4L477.7,192.2L478.1,191.9L478.5,191.6L478.9,191.2L479.3,190.8L479.7,190.3L480.1,189.9L480.5,189.6L480.9,189.3L481.3,189.2L481.7,189.2L482.1,189.1L482.5,189.1L482.9,189.1L483.3,189.0L483.7,189.0L484.1,189.0L484.5,188.9L484.9,188.9L485.3,188.9L485.7,188.9L486.1,188.9L486.5,188.8L486.9,188.8L487.3,188.8L487.7,188.8L488.1,188.8L488.5,188.8L488.9,188.8L489.3,188.7L489.7,188.7L490.1,188.7L490.5,188.7L490.9,188.7L491.3,188.7L491.7,188.7L492.1,188.7L492.5,188.7L492.9,188.7L493.3,188.7L493.7,188.7L494.1,188.8L494.5,189.0L494.9,189.2L495.3,189.5L495.7,189.8L496.1,190.1L496.5,190.3L496.9,190.6L497.3,190.9L497.7,191.1L498.1,191.3L498.5,191.4L498.9,191.4L499.3,191.4L499.7,191.3L500.1,191.3L500.5,191.2L500.9,191.2L501.3,191.1L501.7,191.0L502.1,190.9L502.5,190.8L502.9,190.7L503.3,190.6L503.7,190.6L504.1,190.5L504.5,190.5L504.9,190.4L505.3,190.4L505.7,190.4L506.1,190.4L506.5,190.5L506.9,190.6L507.3,190.7L507.7,190.8L508.1,191.0L508.5,191.2L508.9,191.3L509.3,191.5L509.7,191.7L510.1,191.8L510.5,192.0L510.9,192.2L511.3,192.4L511.7,192.5L512.1,192.6L512.5,192.8L512.9,192.9L513.3,193.0L513.7,193.1L514.1,193.2L514.5,193.3L514.9,193.4L515.3,193.5L515.7,193.6L516.1,193.7L516.5,193.8L516.9,193.9L517.3,194.0L517.7,194.2L518.1,194.3L518.5,194.4L518.9,194.5L519.3,194.7L519.7,194.8L520.1,195.0L520.5,195.2L520.9,195.3L521.3,195.6L521.7,195.8L522.1,196.1L522.5,196.4L522.9,196.7L523.3,197.0L523.7,197.4L524.1,197.7L524.5,198.0L524.9,198.4L525.3,198.7L525.7,199.0L526.1,199.3L526.5,199.6L526.9,200.0L527.3,200.3L527.7,200.6L528.1,200.9L528.5,201.2L528.9,201.5L529.3,201.7L529.7,202.0L530.1,202.2L530.5,202.4L530.9,202.6L531.3,202.8L531.7,203.0L532.1,203.2L532.5,203.3L532.9,203.4L533.3,203.5L533.7,203.6L534.1,203.6L534.5,203.5L534.9,203.4L535.3,203.3L535.7,203.2L536.1,203.2L536.5,203.7L536.9,204.4L537.3,204.6L537.7,204.4L538.1,204.1L538.5,204.0L538.9,204.4L539.3,205.1L539.7,205.6L540.1,206.0L540.5,206.4L540.9,206.7L541.1,206.9" stroke="#00ffff"/>
</g>
<g stroke="#111" stroke-width="1.3" fill="none">
<line x1="59.2" y1="14.6" x2="224.0" y2="14.6"/>
<line x1="232.8" y1="14.6" x2="541.6" y2="14.6"/>
</g>
<g stroke="#000" stroke-width="1.1" fill="none">
<line x1="541.6" y1="14.6" x2="541.6" y2="234.45"/>
</g>
<g stroke="#000" stroke-width="1.3" fill="none">
<line x1="59.2" y1="14.1" x2="59.2" y2="235.1"/>
<line x1="59.2" y1="234.45" x2="224.0" y2="234.45"/>
<line x1="232.8" y1="234.45" x2="542.1" y2="234.45"/>
<line x1="89.40" y1="234.45" x2="89.40" y2="242.35"/>
<line x1="139.70" y1="234.45" x2="139.70" y2="242.35"/>
<line x1="190.00" y1="234.45" x2="190.00" y2="242.35"/>
<line x1="64.25" y1="234.45" x2="64.25" y2="238.45"/>
<line x1="114.55" y1="234.45" x2="114.55" y2="238.45"/>
<line x1="164.85" y1="234.45" x2="164.85" y2="238.45"/>
<line x1="215.15" y1="234.45" x2="215.15" y2="238.45"/>
<line x1="304.30" y1="234.45" x2="304.30" y2="242.35"/>
<line x1="410.15" y1="234.45" x2="410.15" y2="242.35"/>
<line x1="516.00" y1="234.45" x2="516.00" y2="242.35"/>
<line x1="251.38" y1="234.45" x2="251.38" y2="238.45"/>
<line x1="357.23" y1="234.45" x2="357.23" y2="238.45"/>
<line x1="463.07" y1="234.45" x2="463.07" y2="238.45"/>
<line x1="51.70" y1="234.55" x2="59.20" y2="234.55"/>
<line x1="51.70" y1="200.81" x2="59.20" y2="200.81"/>
<line x1="51.70" y1="167.07" x2="59.20" y2="167.07"/>
<line x1="51.70" y1="133.33" x2="59.20" y2="133.33"/>
<line x1="51.70" y1="99.59" x2="59.20" y2="99.59"/>
<line x1="51.70" y1="65.85" x2="59.20" y2="65.85"/>
<line x1="51.70" y1="32.11" x2="59.20" y2="32.11"/>
<line x1="55.20" y1="217.68" x2="59.20" y2="217.68"/>
<line x1="55.20" y1="183.94" x2="59.20" y2="183.94"/>
<line x1="55.20" y1="150.20" x2="59.20" y2="150.20"/>
<line x1="55.20" y1="116.46" x2="59.20" y2="116.46"/>
<line x1="55.20" y1="82.72" x2="59.20" y2="82.72"/>
<line x1="55.20" y1="48.98" x2="59.20" y2="48.98"/>
<line x1="55.20" y1="15.24" x2="59.20" y2="15.24"/>

<line x1="219.8" y1="241.6" x2="228.2" y2="227.0"/>
<line x1="228.0" y1="241.6" x2="236.4" y2="227.0"/>
<line x1="219.8" y1="22.0" x2="228.2" y2="7.6"/>
<line x1="228.0" y1="22.0" x2="236.4" y2="7.6"/>
</g>
<g font-weight="bold" font-size="16px" fill="#000">
<text x="89.00" y="259.3" text-anchor="middle">3500</text>
<text x="139.30" y="259.3" text-anchor="middle">3000</text>
<text x="189.60" y="259.3" text-anchor="middle">2500</text>
<text x="304.10" y="259.3" text-anchor="middle">1500</text>
<text x="409.95" y="259.3" text-anchor="middle">1000</text>
<text x="515.80" y="259.3" text-anchor="middle">500</text>
<text x="46.4" y="238.95" text-anchor="end">0.0</text>
<text x="46.4" y="205.21" text-anchor="end">0.2</text>
<text x="46.4" y="171.47" text-anchor="end">0.4</text>
<text x="46.4" y="137.73" text-anchor="end">0.6</text>
<text x="46.4" y="103.99" text-anchor="end">0.8</text>
<text x="46.4" y="70.25" text-anchor="end">1.0</text>
<text x="46.4" y="36.51" text-anchor="end">1.2</text>
</g>
<g font-weight="bold" font-size="12.8px" fill="#000">
<text transform="translate(113.80,63.10) rotate(-90)">3306</text>
<text transform="translate(151.40,141.50) rotate(-90)">2933</text>
<text transform="translate(160.70,152.20) rotate(-90)">2881</text>
<text transform="translate(263.90,141.00) rotate(-90)">1710</text>
<text transform="translate(291.40,173.70) rotate(-90)">1599</text>
<text transform="translate(315.60,182.70) rotate(-90)">1448</text>
<text transform="translate(329.50,168.80) rotate(-90)">1398</text>
<text transform="translate(369.00,166.50) rotate(-90)">1219</text>
<text transform="translate(389.60,151.80) rotate(-90)">1093</text>
<text transform="translate(406.80,117.50) rotate(-90)">1031</text>
<text transform="translate(419.20,160.00) rotate(-90)">986</text>
<text transform="translate(433.70,185.20) rotate(-90)">917</text>
<text transform="translate(448.30,194.80) rotate(-90)">842</text>
<text transform="translate(485.40,182.70) rotate(-90)">668</text>
</g>
<g font-size="16px" fill="#000">
<line x1="158.5" y1="28.80" x2="194.5" y2="28.80" stroke="#000" stroke-width="1.6"/>
<text x="199.3" y="33.60">Sauvignon</text>
<line x1="158.5" y1="48.65" x2="194.5" y2="48.65" stroke="#f00" stroke-width="1.6"/>
<text x="199.3" y="53.45">Hibernal</text>
<line x1="158.5" y1="68.50" x2="194.5" y2="68.50" stroke="#00f" stroke-width="1.6"/>
<text x="199.3" y="73.30">Cabernet moravia</text>
<line x1="158.5" y1="88.35" x2="194.5" y2="88.35" stroke="#0ff" stroke-width="1.6"/>
<text x="199.3" y="93.15">Andre</text>
</g>
<g font-weight="bold" fill="#000" stroke="#000" stroke-width="0.35">
<text x="64" y="36.8" font-size="19.6px">(a)</text>
<text x="392.8" y="38.0" font-size="20.7px">Wine samples</text>
<text x="392.8" y="64.0" font-size="20.7px">1st measurment</text>
<text x="215.9" y="280.2" font-size="19.7px">Wavenumber [cm<tspan dy="-7.5" font-size="13px">−1</tspan><tspan dy="7.5" font-size="19.7px">]</tspan></text>
<text transform="translate(20.3,198.9) rotate(-90)" font-size="19.4px">Absorbance [a.u.]</text>
</g>
</svg>
</body></html>
